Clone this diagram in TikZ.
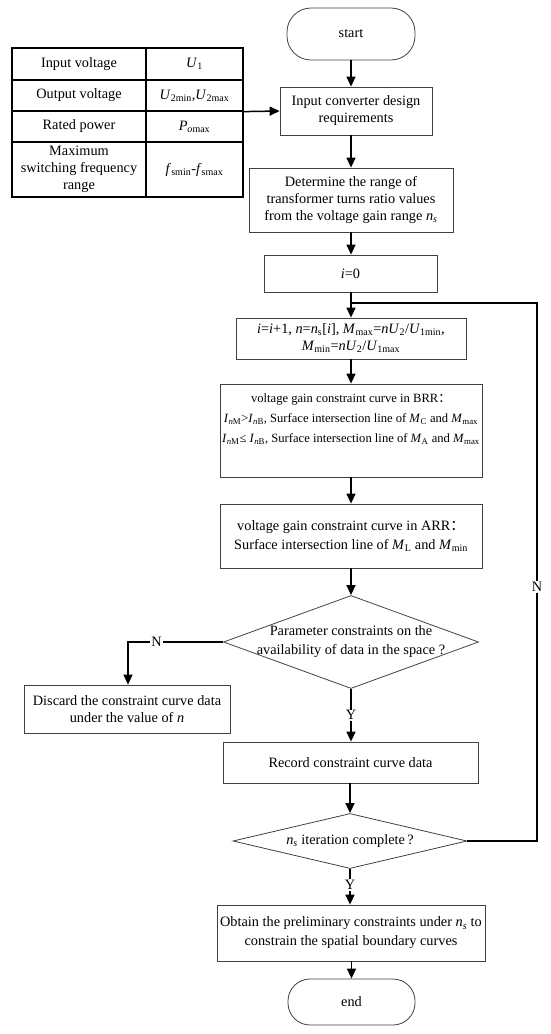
\documentclass[tikz,border=0pt]{standalone}
\usepackage{fontspec}
\setmainfont{Liberation Serif}
\newfontfamily\cjk{Noto Sans CJK SC}
\usetikzlibrary{shapes.geometric,arrows.meta}
\newcommand\subx[1]{\textsubscript{#1}}
\newcommand\vi[1]{\textit{#1}}
\begin{document}
\begin{tikzpicture}[x=1pt,y=1pt,
  font=\fontsize{14.3}{17}\selectfont,
  box/.style={draw=black!75, line width=0.8pt, align=center, inner sep=1pt},
  term/.style={box, rounded corners=24pt},
  cell/.style={draw=black, line width=1.2pt, align=center, inner sep=1pt},
  dia/.style={draw=black!75, line width=0.8pt, diamond, inner sep=0pt},
  txt/.style={align=center, inner sep=0pt},
  conn/.style={draw=black, line width=1.5pt, -{Triangle[length=10pt,width=9pt]}},
  wire/.style={draw=black, line width=1.5pt},
  lab/.style={fill=white, inner sep=1pt}]
\useasboundingbox (0,0) rectangle (550,-1034);

% table
\node[cell, minimum width=134pt, minimum height=32pt] (c11) at (79,-64) {Input voltage};
\node[cell, minimum width=97pt, minimum height=32pt] (c12) at (194.5,-64) {\vi{U}\subx{1}};
\node[cell, minimum width=134pt, minimum height=31pt] (c21) at (79,-95.5) {Output voltage};
\node[cell, minimum width=97pt, minimum height=31pt] (c22) at (194.5,-95.5) {\vi{U}\subx{2min},\vi{U}\subx{2max}};
\node[cell, minimum width=134pt, minimum height=31pt] (c31) at (79,-126.5) {Rated power};
\node[cell, minimum width=97pt, minimum height=31pt] (c32) at (194.5,-126.5) {\vi{P}\subx{\vi{o}max}};
\node[cell, minimum width=134pt, minimum height=55pt] (c41) at (79,-169.5) {Maximum\\switching frequency\\range};
\node[cell, minimum width=97pt, minimum height=55pt] (c42) at (194.5,-169.5) {\vi{f}\subx{smin}-\vi{f}\subx{smax}};

% flow
\node[term, minimum width=128pt, minimum height=52pt] (start) at (351,-34) {start};
\node[box, minimum width=152pt, minimum height=48pt] (input) at (356,-111) {Input converter design\\requirements};
\node[box, minimum width=204pt, minimum height=64pt] (det) at (351,-200) {Determine the range of\\transformer turns ratio values\\from the voltage gain range \vi{n}\subx{\vi{s}}};
\node[box, minimum width=173pt, minimum height=37pt] (i0) at (350.5,-273.5) {\vi{i}=0};
\node[box, minimum width=230pt, minimum height=41pt] (iter) at (351,-338.5) {\vi{i}=\vi{i}+1, \vi{n}=\vi{n}\subx{s}[\vi{i}], \vi{M}\subx{max}=\vi{nU}\subx{2}/\vi{U}\subx{1min},\\\vi{M}\subx{min}=\vi{nU}\subx{2}/\vi{U}\subx{1max}};
\node[box, minimum width=262pt, minimum height=93pt] (brr) at (351,-430.5) {};
\node[txt, font=\fontsize{12.6}{20}\selectfont] (brrt) at (351,-419) {voltage gain constraint curve in BRR{\cjk ：}\\\vi{I}\subx{\vi{n}M}>\vi{I}\subx{\vi{n}B}, Surface intersection line of \vi{M}\subx{C} and \vi{M}\subx{max}\\\vi{I}\subx{\vi{n}M}≤ \vi{I}\subx{\vi{n}B}, Surface intersection line of \vi{M}\subx{A} and \vi{M}\subx{max}};
\node[box, minimum width=262pt, minimum height=64pt, font=\fontsize{14.3}{18.5}\selectfont] (arr) at (351,-536) {voltage gain constraint curve in ARR{\cjk ：}\\Surface intersection line of \vi{M}\subx{L} and \vi{M}\subx{min}};
\node[dia, minimum width=255pt, minimum height=93pt] (d1) at (351,-642) {};
\node[txt, font=\fontsize{14.3}{19}\selectfont] (d1t) at (351,-642) {Parameter constraints on the\\availability of data in the space ?};
\node[box, minimum width=206pt, minimum height=48pt] (disc) at (127,-709) {Discard the constraint curve data\\under the value of \vi{n}};
\node[box, minimum width=255pt, minimum height=41pt] (rec) at (350.5,-762.5) {Record constraint curve data};
\node[dia, minimum width=234pt, minimum height=55pt] (d2) at (350,-841) {};
\node[txt] (d2t) at (350,-841) {\vi{n}\subx{\vi{s}} iteration complete\,?};
\node[box, minimum width=268pt, minimum height=56pt, font=\fontsize{14.3}{19}\selectfont] (fin) at (351,-933) {Obtain the preliminary constraints under \vi{n}\subx{\vi{s}} to\\constrain the spatial boundary curves};
\node[term, minimum width=127pt, minimum height=46pt, rounded corners=22pt] (end) at (351.5,-1002) {end};

\coordinate (jn) at (351,-303);
\coordinate (lr1) at (537,-303);
\coordinate (lr2) at (537,-841);
\coordinate (nl) at (128,-642);

% connectors
\draw[conn] (c22.south east) -- (input.west);
\draw[conn] (start.south) -- (start.south |- input.north);
\draw[conn] (start.south |- input.south) -- (det.north);
\draw[conn] (det.south) -- (det.south |- i0.north);
\draw[conn] (i0.south -| iter.north) -- (iter.north);
\draw[wire] (d2.east) -- (lr2) -- node[lab, pos=0.472] (nlab2) {N} (lr1) -- (jn);
\draw[conn] (iter.south) -- (brr.north);
\draw[conn] (brr.south) -- (arr.north);
\draw[conn] (arr.south) -- (d1.north);
\draw[conn] (d1.west) -- node[lab, pos=0.7] (nlab1) {N} (nl) -- (disc.north -| nl);
\draw[conn] (d1.south) -- node[lab, pos=0.5] (ylab1) {Y} (rec.north -| d1.south);
\draw[conn] (rec.south -| d2.north) -- (d2.north);
\draw[conn] (d2.south) -- node[lab, pos=0.45] (ylab2) {Y} (d2.south |- fin.north);
\draw[conn] (fin.south -| end.north) -- (end.north);
\end{tikzpicture}
\end{document}
